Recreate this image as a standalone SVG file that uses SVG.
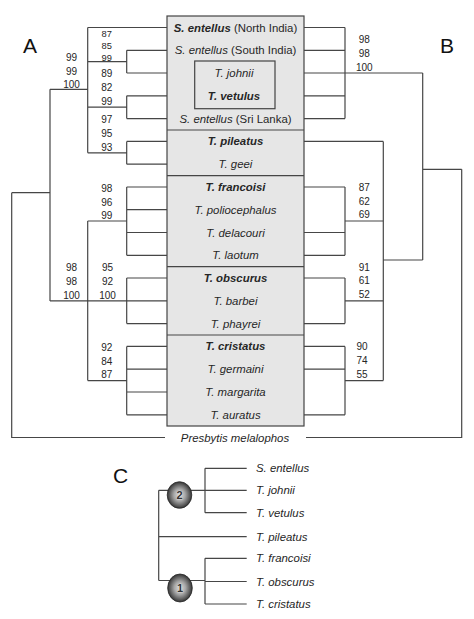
<svg xmlns="http://www.w3.org/2000/svg" width="474" height="619" viewBox="0 0 474 619">
<defs>
<style>
.ln{fill:none;stroke:#464646;stroke-width:1.2}
.tx{font-family:"Liberation Sans",Arial,sans-serif;font-size:11.4px;fill:#262626}
.c{text-anchor:middle}
.i{font-style:italic}
.b{font-weight:bold}
.n{font-family:"Liberation Sans",Arial,sans-serif;font-size:10px;fill:#262626;text-anchor:middle}
.sm{font-size:9.3px}
.big{font-family:"Liberation Sans",Arial,sans-serif;font-size:21px;fill:#111}
.cn{font-family:"Liberation Sans",Arial,sans-serif;font-size:11px;fill:#333;stroke:#eee;stroke-width:0.6;paint-order:stroke;text-anchor:middle;font-weight:bold}
</style>
<radialGradient id="sph" cx="0.5" cy="0.5" r="0.5">
<stop offset="0" stop-color="#e0e0e0"/>
<stop offset="0.45" stop-color="#a8a8a8"/>
<stop offset="0.8" stop-color="#606060"/>
<stop offset="1" stop-color="#333"/>
</radialGradient>
</defs>
<rect width="474" height="619" fill="#fff"/>

<g id="box">
<rect x="167" y="16" width="137" height="410" fill="#e6e6e6" stroke="#444" stroke-width="1.2"/>
<path class="ln" d="M167 130H304M167 175.6H304M167 266.7H304M167 335H304"/>
<rect x="194.7" y="61" width="80.3" height="47.7" fill="none" stroke="#444" stroke-width="1.2"/>
</g>

<g id="connectors">
<!-- Tree A -->
<path class="ln" d="M87.7 27.5H167
M126.7 50.3H167M126.7 73H167M126.7 50.3V73M87.7 61.7H126.7
M126.7 95.8H167M126.7 118.6H167M126.7 95.8V118.6M87.7 107.2H126.7
M126.7 141.4H167M126.7 164.2H167M126.7 141.4V164.2M87.7 152.8H126.7
M87.7 27.5V152.8M50 89.3H87.7
M126.7 187H167M126.7 209.7H167M126.7 232.5H167M126.7 255.3H167M126.7 187V255.3M87.7 221H126.7
M126.7 278H167M50 300.9H167M126.7 323.6H167M126.7 278V323.6
M126.7 346.4H167M126.7 369.2H167M126.7 392H167M126.7 414.8H167M126.7 346.4V414.8M87.7 380.6H126.7
M87.7 221V380.6M50 89.3V300.9M11.7 192.7H50M11.7 192.7V437.5H165"/>
<!-- Tree B -->
<path class="ln" d="M304 27.5H345M304 50.3H345M304 73H345M304 95.8H345M304 118.6H345M345 27.5V118.6M345 73H422.7
M304 141.4H383.3
M304 187H345M304 232.5H345M304 255.3H345M345 187V255.3M345 221H383.3
M304 278H345M304 323.6H345M345 278V323.6M345 300.9H383.3
M304 346.4H345M304 369.2H345M304 414.8H345M345 346.4V414.8M345 380.6H383.3
M383.3 141.4V380.6M383.3 260H422.7M422.7 73V260M422.7 169.3H461.7M461.7 169.3V437.5H306"/>
<!-- Tree C -->
<path class="ln" d="M158.7 490.3V580.5M158.7 490.3H205M205 468.3V512.7M205 468.3H246.7M205 490.3H246.7M205 512.7H246.7
M158.7 536.7H246.7
M158.7 580.5H205M205 558.3V604M205 558.3H246.7M205 581.5H246.7M205 604H246.7"/>
</g>

<g id="support-A">
<text class="n sm" x="106.7" y="37">87</text><text class="n sm" x="106.7" y="49">85</text><text class="n sm" x="106.7" y="60.5">99</text>
<text class="n" x="106.7" y="76.5">89</text><text class="n" x="106.7" y="91">82</text><text class="n" x="106.7" y="105">99</text>
<text class="n" x="106.7" y="123">97</text><text class="n" x="106.7" y="137">95</text><text class="n" x="106.7" y="150.5">93</text>
<text class="n" x="71.5" y="61">99</text><text class="n" x="71.5" y="74.5">99</text><text class="n" x="71.5" y="88">100</text>
<text class="n" x="106.7" y="192">98</text><text class="n" x="106.7" y="205.5">96</text><text class="n" x="106.7" y="218.5">99</text>
<text class="n" x="71.5" y="271">98</text><text class="n" x="71.5" y="285">98</text><text class="n" x="71.5" y="298.5">100</text>
<text class="n" x="107.5" y="271">95</text><text class="n" x="107.5" y="285">92</text><text class="n" x="107.5" y="298.5">100</text>
<text class="n" x="106.7" y="350.5">92</text><text class="n" x="106.7" y="365">84</text><text class="n" x="106.7" y="378">87</text>
</g>

<g id="support-B">
<text class="n" x="364.3" y="43">98</text><text class="n" x="364.3" y="56.5">98</text><text class="n" x="364.3" y="70.5">100</text>
<text class="n" x="364.3" y="190.5">87</text><text class="n" x="364.3" y="204.5">62</text><text class="n" x="364.3" y="218">69</text>
<text class="n" x="364.3" y="270.5">91</text><text class="n" x="364.3" y="284">61</text><text class="n" x="364.3" y="298">52</text>
<text class="n" x="362" y="349.5">90</text><text class="n" x="362" y="364">74</text><text class="n" x="362" y="377.5">55</text>
</g>

<g id="panel-labels">
<text class="big" x="23" y="53">A</text>
<text class="big" x="440" y="53">B</text>
<text class="big" x="113" y="483">C</text>
</g>

<g id="taxon-sentellus-north"><text class="tx c" x="235.5" y="31.5"><tspan class="i b">S. entellus</tspan> (North India)</text></g>
<g id="taxon-sentellus-south"><text class="tx c" x="235.5" y="54.3"><tspan class="i">S. entellus</tspan> (South India)</text></g>
<g id="taxon-johnii"><text class="tx c i" x="234" y="77">T. johnii</text></g>
<g id="taxon-vetulus"><text class="tx c i b" x="234" y="99.8">T. vetulus</text></g>
<g id="taxon-sentellus-srilanka"><text class="tx c" x="235.5" y="122.6"><tspan class="i">S. entellus</tspan> (Sri Lanka)</text></g>
<g id="taxon-pileatus"><text class="tx c i b" x="235.5" y="145.4">T. pileatus</text></g>
<g id="taxon-geei"><text class="tx c i" x="235.5" y="168.2">T. geei</text></g>
<g id="taxon-francoisi"><text class="tx c i b" x="235.5" y="191">T. francoisi</text></g>
<g id="taxon-poliocephalus"><text class="tx c i" x="235.5" y="213.7">T. poliocephalus</text></g>
<g id="taxon-delacouri"><text class="tx c i" x="235.5" y="236.5">T. delacouri</text></g>
<g id="taxon-laotum"><text class="tx c i" x="235.5" y="259.3">T. laotum</text></g>
<g id="taxon-obscurus"><text class="tx c i b" x="235.5" y="282">T. obscurus</text></g>
<g id="taxon-barbei"><text class="tx c i" x="235.5" y="304.9">T. barbei</text></g>
<g id="taxon-phayrei"><text class="tx c i" x="235.5" y="327.6">T. phayrei</text></g>
<g id="taxon-cristatus"><text class="tx c i b" x="235.5" y="350.4">T. cristatus</text></g>
<g id="taxon-germaini"><text class="tx c i" x="235.5" y="373.2">T. germaini</text></g>
<g id="taxon-margarita"><text class="tx c i" x="235.5" y="396">T. margarita</text></g>
<g id="taxon-auratus"><text class="tx c i" x="235.5" y="418.8">T. auratus</text></g>
<g id="taxon-presbytis"><text class="tx c i" x="235" y="441.5">Presbytis melalophos</text></g>

<g id="node-2">
<ellipse cx="179.5" cy="495" rx="12.3" ry="13.3" fill="url(#sph)" stroke="#2a2a2a" stroke-width="0.8"/>
<text class="cn" x="179.5" y="499">2</text>
</g>
<g id="node-1">
<ellipse cx="180" cy="588" rx="12.3" ry="14" fill="url(#sph)" stroke="#2a2a2a" stroke-width="0.8"/>
<text class="cn" x="180" y="592">1</text>
</g>

<g id="c-labels">
<text class="tx i" x="256" y="472.3">S. entellus</text>
<text class="tx i" x="256" y="494.3">T. johnii</text>
<text class="tx i" x="256" y="516.7">T. vetulus</text>
<text class="tx i" x="256" y="540.7">T. pileatus</text>
<text class="tx i" x="256" y="562.3">T. francoisi</text>
<text class="tx i" x="256" y="585.5">T. obscurus</text>
<text class="tx i" x="256" y="608">T. cristatus</text>
</g>
</svg>
